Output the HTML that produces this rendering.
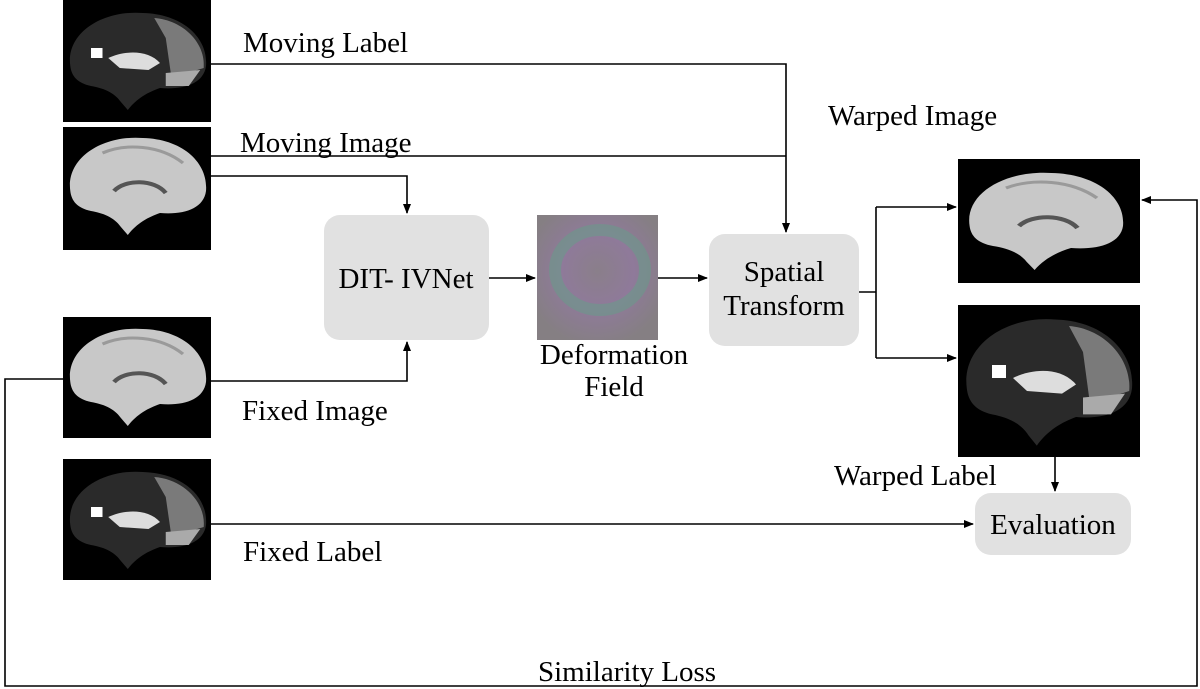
<!DOCTYPE html>
<html><head><meta charset="utf-8"><style>
html,body{margin:0;padding:0;background:#fff;}
body{width:1200px;height:689px;position:relative;overflow:hidden;font-family:"Liberation Serif",serif;}
</style></head><body>
<svg width="1200" height="689" viewBox="0 0 1200 689" xmlns="http://www.w3.org/2000/svg" style="position:absolute;left:0;top:0">
<defs>
<marker id="a" markerWidth="10" markerHeight="10" refX="9" refY="5" orient="auto" markerUnits="userSpaceOnUse">
<path d="M0,1 L10,5 L0,9 z" fill="#000"/></marker>
<radialGradient id="df" cx="50%" cy="45%" r="60%">
<stop offset="0" stop-color="#8a7f8a"/><stop offset="0.5" stop-color="#8f7a9a"/><stop offset="1" stop-color="#857f83"/></radialGradient>
<g id="brainI">
<path d="M-58,8 C-62,-25 -30,-48 5,-45 C40,-44 62,-20 60,8 C58,26 40,32 20,30 C10,34 0,40 -8,52 L-14,44 C-20,34 -30,30 -40,28 C-52,25 -57,18 -58,8 z" fill="#c8c8c8"/>
<path d="M-30,-30 C-10,-40 20,-38 40,-20" stroke="#9a9a9a" stroke-width="3" fill="none"/>
<path d="M-20,8 C-10,-4 15,-4 25,10" stroke="#555" stroke-width="4" fill="none"/>
</g>
<g id="brainL">
<path d="M-58,8 C-62,-25 -30,-48 5,-45 C40,-44 62,-20 60,8 C58,26 40,32 20,30 C10,34 0,40 -8,52 L-14,44 C-20,34 -30,30 -40,28 C-52,25 -57,18 -58,8 z" fill="#2a2a2a"/>
<path d="M15,-40 C40,-38 60,-15 58,10 L30,20 L25,-20 z" fill="#7a7a7a"/>
<path d="M-25,0 C-10,-8 10,-8 20,5 L10,12 L-15,10 z" fill="#ddd"/>
<rect x="-40" y="-10" width="10" height="10" fill="#fff"/>
<path d="M25,15 L55,12 L45,28 L25,28 z" fill="#aaa"/>
</g>
</defs>
<rect x="63" y="0" width="148" height="122" fill="#000"/>
<use href="#brainL" transform="translate(137,58) scale(1.15,1.0)"/>
<rect x="63" y="127" width="148" height="123" fill="#000"/>
<use href="#brainI" transform="translate(137,183) scale(1.15,1.0)"/>
<rect x="63" y="317" width="148" height="121" fill="#000"/>
<use href="#brainI" transform="translate(137,374) scale(1.15,1.0)"/>
<rect x="63" y="459" width="148" height="121" fill="#000"/>
<use href="#brainL" transform="translate(137,517) scale(1.15,1.0)"/>
<rect x="958" y="159" width="182" height="124" fill="#000"/>
<use href="#brainI" transform="translate(1045,218) scale(1.3,1.0)"/>
<rect x="958" y="305" width="182" height="152" fill="#000"/>
<use href="#brainL" transform="translate(1048,378) scale(1.4,1.3)"/>
<rect x="324" y="215" width="165" height="125" rx="16" fill="#e1e1e1"/>
<rect x="537" y="215" width="121" height="125" fill="url(#df)"/>
<ellipse cx="600" cy="270" rx="45" ry="40" fill="none" stroke="#6a9a8a" stroke-width="12" opacity="0.6"/>
<rect x="709" y="234" width="150" height="112" rx="16" fill="#e1e1e1"/>
<rect x="975" y="493" width="156" height="62" rx="16" fill="#e1e1e1"/>
<g stroke="#000" stroke-width="1.6" fill="none">
<path d="M211,64 H786 V232" marker-end="url(#a)"/>
<path d="M211,156 H786"/>
<path d="M211,176 H407 V213" marker-end="url(#a)"/>
<path d="M211,381 H407 V342" marker-end="url(#a)"/>
<path d="M489,278 H535" marker-end="url(#a)"/>
<path d="M658,278 H707" marker-end="url(#a)"/>
<path d="M859,292 H876"/>
<path d="M876,207 V358"/>
<path d="M876,207 H956" marker-end="url(#a)"/>
<path d="M876,358 H956" marker-end="url(#a)"/>
<path d="M1055,457 V491" marker-end="url(#a)"/>
<path d="M211,524 H973" marker-end="url(#a)"/>
<path d="M63,379 H5 V686 H1197 V200 H1142" marker-end="url(#a)"/>
</g>
<g font-family="Liberation Serif, serif" font-size="29" fill="#000">
<text x="243" y="52">Moving Label</text>
<text x="240" y="152">Moving Image</text>
<text x="242" y="420">Fixed Image</text>
<text x="243" y="561">Fixed Label</text>
<text x="828" y="125">Warped Image</text>
<text x="834" y="485">Warped Label</text>
<text x="614" y="364" text-anchor="middle">Deformation</text>
<text x="614" y="396" text-anchor="middle">Field</text>
<text x="406" y="288" text-anchor="middle">DIT- IVNet</text>
<text x="784" y="281" text-anchor="middle">Spatial</text>
<text x="784" y="315" text-anchor="middle">Transform</text>
<text x="1053" y="534" text-anchor="middle">Evaluation</text>
<text x="538" y="681">Similarity Loss</text>
</g>
</svg>
</body></html>
